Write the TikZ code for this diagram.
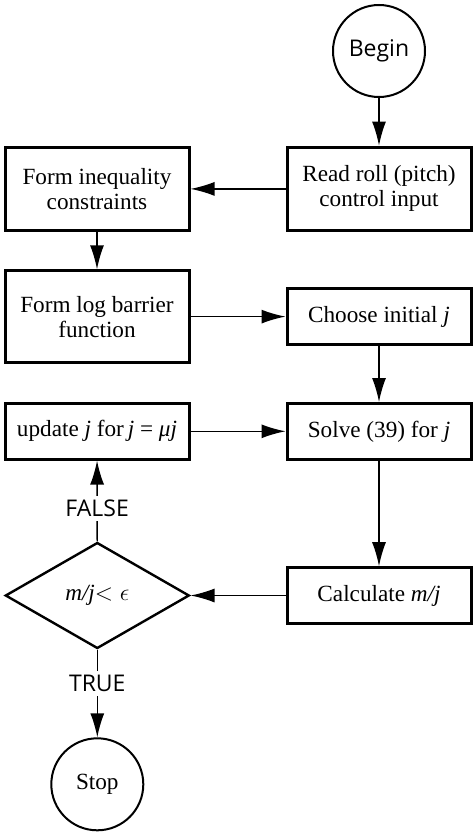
\documentclass[tikz,border=0pt]{standalone}
\usepackage{fontspec}
\setmainfont{Liberation Serif}
\newfontfamily\labelfont{Open Sans}
\usetikzlibrary{shapes.geometric,arrows.meta,positioning}

\begin{document}
\begin{tikzpicture}[node distance=47.5pt,
        block/.style={rectangle, draw, line width=1.5pt, align=center, minimum width=92pt, inner sep=2pt, font=\fontsize{11.6}{12.5}\selectfont},
        term/.style={circle, draw, line width=1pt, minimum size=46pt, inner sep=0pt},
        decide/.style={diamond, draw, line width=1.2pt, minimum width=92pt, minimum height=53pt, inner sep=0pt, font=\fontsize{11.6}{12.5}\selectfont},
        arrow/.style={-{Latex[length=12pt,width=7pt]}, line width=0.7pt},
        tag/.style={fill=white, inner sep=2pt, font=\labelfont\fontsize{11.5}{13}\selectfont}]

        \useasboundingbox (0,0) rectangle (237pt,-417.5pt);

        \node[term, font=\labelfont\fontsize{11.5}{13}\selectfont] (begin) at (189.5pt,-25.5pt) {Begin};
        \node[block, minimum height=41.8pt, below=23.8pt of begin] (read) {Read roll (pitch)\\control input};
        \node[block, minimum height=41.8pt, left=of read] (ineq) {Form inequality\\constraints};
        \node[block, minimum height=28.3pt, below=27.3pt of read] (choose) {Choose initial \textit{j}};
        \node[block, minimum height=45.8pt, left=of choose] (barrier) {Form log barrier\\function};
        \node[block, minimum height=27.8pt, below=27.8pt of choose] (solve) {Solve (39) for \textit{j}};
        \node[block, minimum height=27.8pt, left=of solve] (update) {update \textit{j} for\,\textit{j} = \textit{μj}};
        \node[block, minimum height=27.8pt, below=52.8pt of solve] (calc) {Calculate \textit{m/j}};
        \node[decide, left=of calc] (test) {\textit{m/j}$<\epsilon$};
        \node[term, font=\fontsize{11.6}{12.5}\selectfont, below=43.8pt of test] (stop) {Stop};

        \draw[arrow] (begin) -- (read);
        \draw[arrow] (read) -- (ineq);
        \draw[arrow] (ineq) -- (barrier);
        \draw[arrow] (barrier) -- (choose);
        \draw[arrow] (choose) -- (solve);
        \draw[arrow] (update) -- (solve);
        \draw[arrow] (solve) -- (calc);
        \draw[arrow] (calc) -- (test);
        \draw[arrow] (test) -- node[tag, pos=0.41] {FALSE} (update);
        \draw[arrow] (test) -- node[tag, pos=0.385] {TRUE} (stop);
    \end{tikzpicture}
\end{document}
